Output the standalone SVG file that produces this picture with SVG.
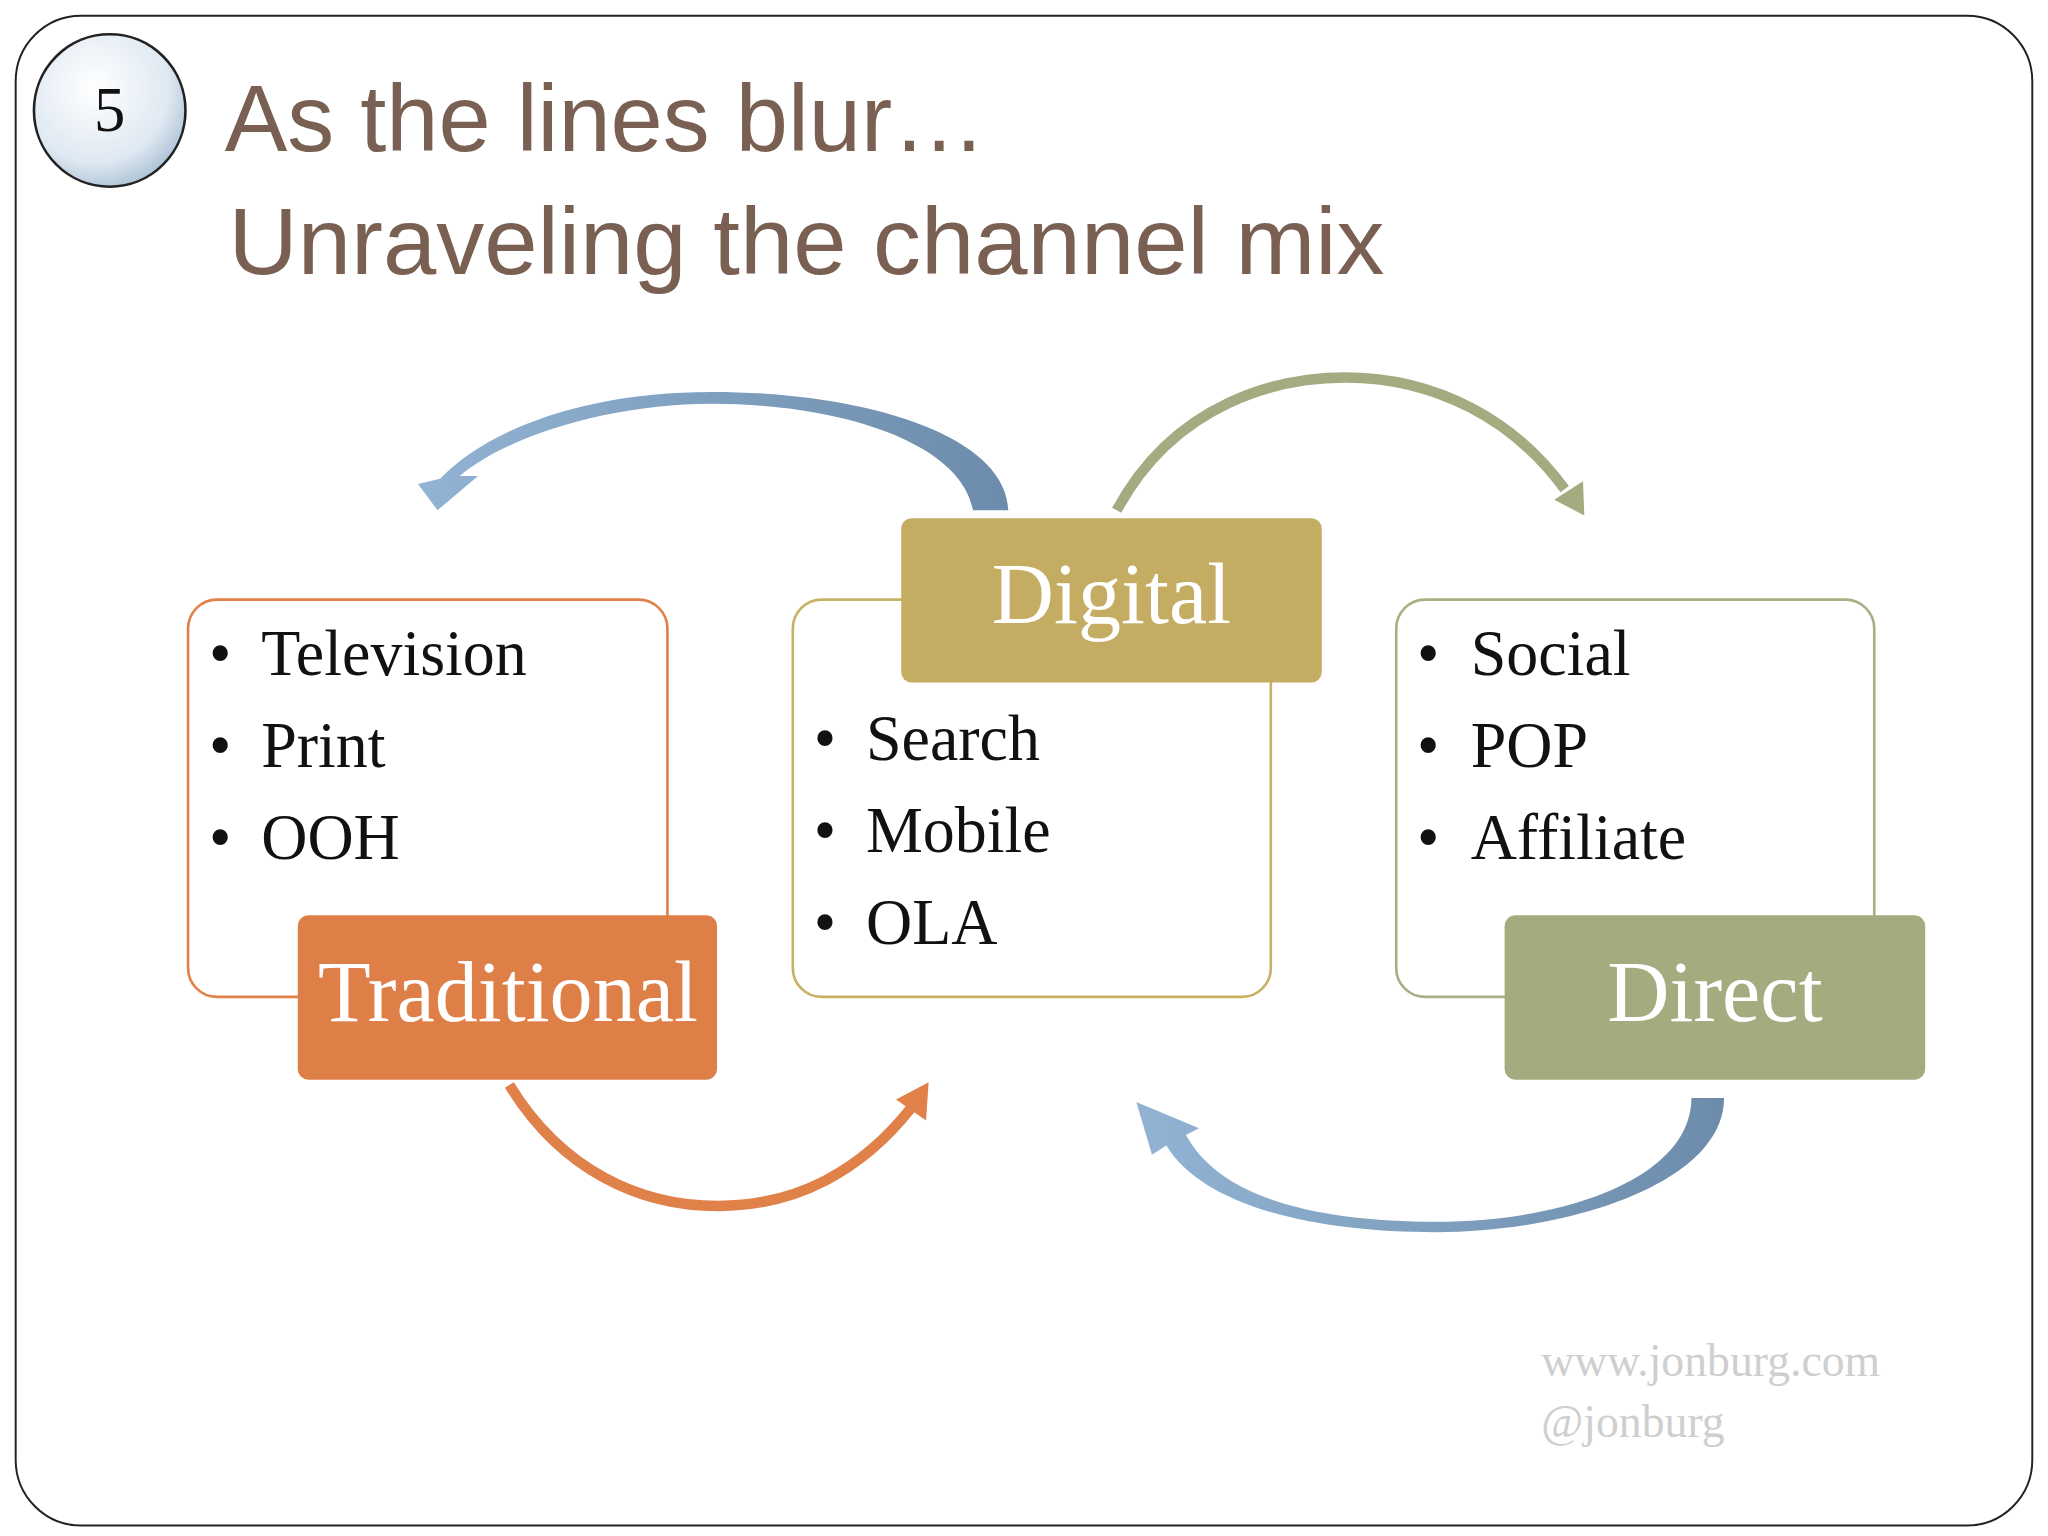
<svg xmlns="http://www.w3.org/2000/svg" width="2048" height="1536" viewBox="0 0 2048 1536">
<defs>
<radialGradient id="ball" cx="0.4" cy="0.35" r="0.7"><stop offset="0" stop-color="#ffffff"/><stop offset="0.7" stop-color="#dfe9f2"/><stop offset="1" stop-color="#a9bfd3"/></radialGradient>
<linearGradient id="blue" x1="0" y1="0" x2="1" y2="0"><stop offset="0" stop-color="#92b3d3"/><stop offset="1" stop-color="#6d8cab"/></linearGradient>
<style>
.ser{font-family:"Liberation Serif","DejaVu Serif",serif}
.item{font-family:"Liberation Serif",serif;font-size:49px;fill:#111}
.lab{font-family:"Liberation Serif",serif;font-size:66px;fill:#fff;text-anchor:middle}
.title{font-family:"Liberation Sans Narrow","Liberation Sans",sans-serif;font-size:72px;fill:#7a6052}
.wm{font-family:"Liberation Serif",serif;font-size:35px;fill:#cfcfcf}
</style>
</defs>
<rect width="2048" height="1536" fill="#fff"/>
<g transform="scale(1.3061,1.3151)">
<rect x="12" y="12" width="1544" height="1148" rx="50" fill="#fff" stroke="#222" stroke-width="1.5"/>
<g id="badge"><circle cx="84" cy="84" r="58" fill="url(#ball)" stroke="#222" stroke-width="2"/><text x="84" y="100" class="ser" font-size="48" text-anchor="middle" fill="#111">5</text></g>
<g id="title">
<text x="172" y="115" class="title" textLength="583" lengthAdjust="spacingAndGlyphs">As the lines blur…</text>
<text x="175" y="208" class="title" textLength="885" lengthAdjust="spacingAndGlyphs">Unraveling the channel mix</text>
</g>
<g id="connectors">
<path d="M772,388 C770,330 660,298 545,298 C450,298 375,325 337,364 L320,368 L335,388 L366,362 L352,362 C390,330 470,307 545,307 C640,307 735,335 745,388 Z" fill="url(#blue)"/>
<path d="M1320,835 C1320,900 1200,937 1100,937 C1000,937 920,915 893,871 L882,878 L870,838 L918,858 L908,863 C935,912 1010,929 1100,929 C1200,929 1295,895 1295,835 Z" fill="url(#blue)"/>
<path d="M855,388 C900,305 980,287 1030,287 C1100,287 1160,320 1198,372" fill="none" stroke="#a5aa80" stroke-width="8"/>
<polygon points="1213,392 1190,380 1212,366" fill="#a5aa80"/>
<path d="M390,825 C430,890 490,917 550,917 C610,917 660,890 698,842" fill="none" stroke="#e0814a" stroke-width="8"/>
<polygon points="711,823 709,852 686,836" fill="#e0814a"/>
</g>
<g id="traditional">
<rect x="144" y="456" width="367" height="302" rx="22" fill="#fff" stroke="#e0814a" stroke-width="2"/>
<text class="item"><tspan x="160" y="513">•</tspan><tspan x="200" y="513">Television</tspan><tspan x="160" y="583">•</tspan><tspan x="200" y="583">Print</tspan><tspan x="160" y="653">•</tspan><tspan x="200" y="653">OOH</tspan></text>
<rect x="228" y="696" width="321" height="125" rx="8" fill="#df7f48"/>
<text x="389" y="776" class="lab">Traditional</text>
</g>
<g id="digital">
<rect x="607" y="456" width="366" height="302" rx="22" fill="#fff" stroke="#c9b163" stroke-width="2"/>
<text class="item"><tspan x="623" y="578">•</tspan><tspan x="663" y="578">Search</tspan><tspan x="623" y="648">•</tspan><tspan x="663" y="648">Mobile</tspan><tspan x="623" y="718">•</tspan><tspan x="663" y="718">OLA</tspan></text>
<rect x="690" y="394" width="322" height="125" rx="8" fill="#c4ad62"/>
<text x="851" y="474" class="lab">Digital</text>
</g>
<g id="direct">
<rect x="1069" y="456" width="366" height="302" rx="22" fill="#fff" stroke="#a9ae85" stroke-width="2"/>
<text class="item"><tspan x="1085" y="513">•</tspan><tspan x="1126" y="513">Social</tspan><tspan x="1085" y="583">•</tspan><tspan x="1126" y="583">POP</tspan><tspan x="1085" y="653">•</tspan><tspan x="1126" y="653">Affiliate</tspan></text>
<rect x="1152" y="696" width="322" height="125" rx="8" fill="#a5aa7f"/>
<text x="1313" y="776" class="lab">Direct</text>
</g>
<g id="watermark">
<text x="1180" y="1046" class="wm">www.jonburg.com</text>
<text x="1180" y="1093" class="wm">@jonburg</text>
</g>
</g>
</svg>
